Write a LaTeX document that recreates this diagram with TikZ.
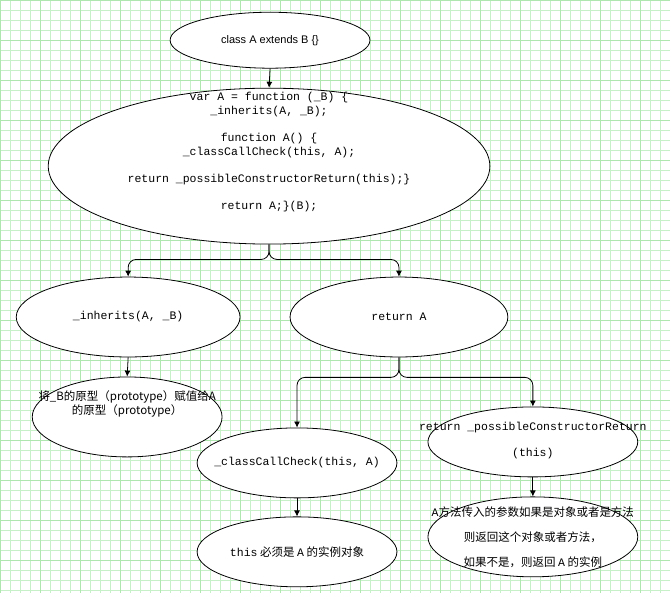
\documentclass[tikz,border=0pt]{standalone}
\usepackage{fontspec}
\setmainfont{Liberation Sans}
\newfontfamily\cjk{Noto Sans CJK SC}
\newfontfamily\mono{Liberation Mono}
\definecolor{gridc}{RGB}{200,240,200}
\definecolor{gridd}{RGB}{175,230,175}
\usetikzlibrary{shapes.geometric,arrows.meta}
\begin{document}
\begin{tikzpicture}[x=1pt,y=-1pt,
  el/.style={draw,ellipse,line width=0.8pt,inner sep=0pt},
  cd/.style={font=\mono\fontsize{11.5}{14}\selectfont,align=center},
  zh/.style={font=\cjk\fontsize{11.5}{14}\selectfont,align=center},
  conn/.style={-{Latex[length=6pt,width=6pt]},line width=0.8pt,rounded corners=8pt}]
\fill[white] (0,0) rectangle (670,593);
\foreach \i in {0,10,...,670} \draw[gridc,line width=0.4pt] (\i,0) -- (\i,593);
\foreach \j in {0,10,...,590} \draw[gridc,line width=0.4pt] (0,\j) -- (670,\j);
\foreach \i in {0,40,...,670} \draw[gridd,line width=0.5pt] (\i,0) -- (\i,593);
\foreach \j in {0,40,...,590} \draw[gridd,line width=0.5pt] (0,\j) -- (670,\j);
\useasboundingbox (0,0) rectangle (670,593);
\node[el,fill=white,minimum width=200,minimum height=56] (top) at (270,40) {};
\node[font=\fontsize{11}{13}\selectfont] at (top) {class A extends B \{\}};
\node[el,fill=white,minimum width=442,minimum height=156] (big) at (269,166) {};
\node[cd] at (269,152) {var A = function (\_B) \{\\ \_inherits(A, \_B);\\[13pt] function A() \{\\ \_classCallCheck(this, A);\\[13pt] return \_possibleConstructorReturn(this);\}\\[13pt] return A;\}(B);};
\node[el,fill=white,minimum width=224,minimum height=80] (inh) at (128,317) {};
\node[cd] at (inh) {\_inherits(A, \_B)};
\node[el,fill=white,minimum width=218,minimum height=80] (ra) at (399,317) {};
\node[cd] at (ra) {return A};
\node[el,fill=white,minimum width=190,minimum height=80] (proto) at (127,417) {};
\node[zh] at (127,404) {将\_B的原型（prototype）赋值给A\\的原型（prototype）};
\node[el,fill=white,minimum width=200,minimum height=70] (ccc) at (297,463) {};
\node[cd] at (ccc) {\_classCallCheck(this, A)};
\node[el,fill=white,minimum width=210,minimum height=70] (pcr) at (533,442) {};
\node[cd,font=\mono\fontsize{11.5}{26}\selectfont] at (533,441) {return \_possibleConstructorReturn\\(this)};
\node[el,fill=white,minimum width=200,minimum height=70] (must) at (297,552) {};
\node[zh] at (must) {{\mono this} 必须是 {\mono A} 的实例对象};
\node[el,fill=white,minimum width=210,minimum height=80] (fin) at (533,537) {};
\node[zh,font=\cjk\fontsize{11.5}{25}\selectfont] at (533,537) {{\mono A}方法传入的参数如果是对象或者是方法\\则返回这个对象或者方法，\\如果不是，则返回 {\mono A} 的实例};
\draw[conn] (top.south) -- (big.north);
\draw[conn] (big.south) -- ++(0,15) -| (inh.north);
\draw[conn] (big.south) -- ++(0,15) -| (ra.north);
\draw[conn] (inh.south) -- (proto.north);
\draw[conn] (ra.south) -- ++(0,20) -| (ccc.north);
\draw[conn] (ra.south) -- ++(0,20) -| (pcr.north);
\draw[conn] (ccc.south) -- (must.north);
\draw[conn] (pcr.south) -- (fin.north);
\end{tikzpicture}
\end{document}
